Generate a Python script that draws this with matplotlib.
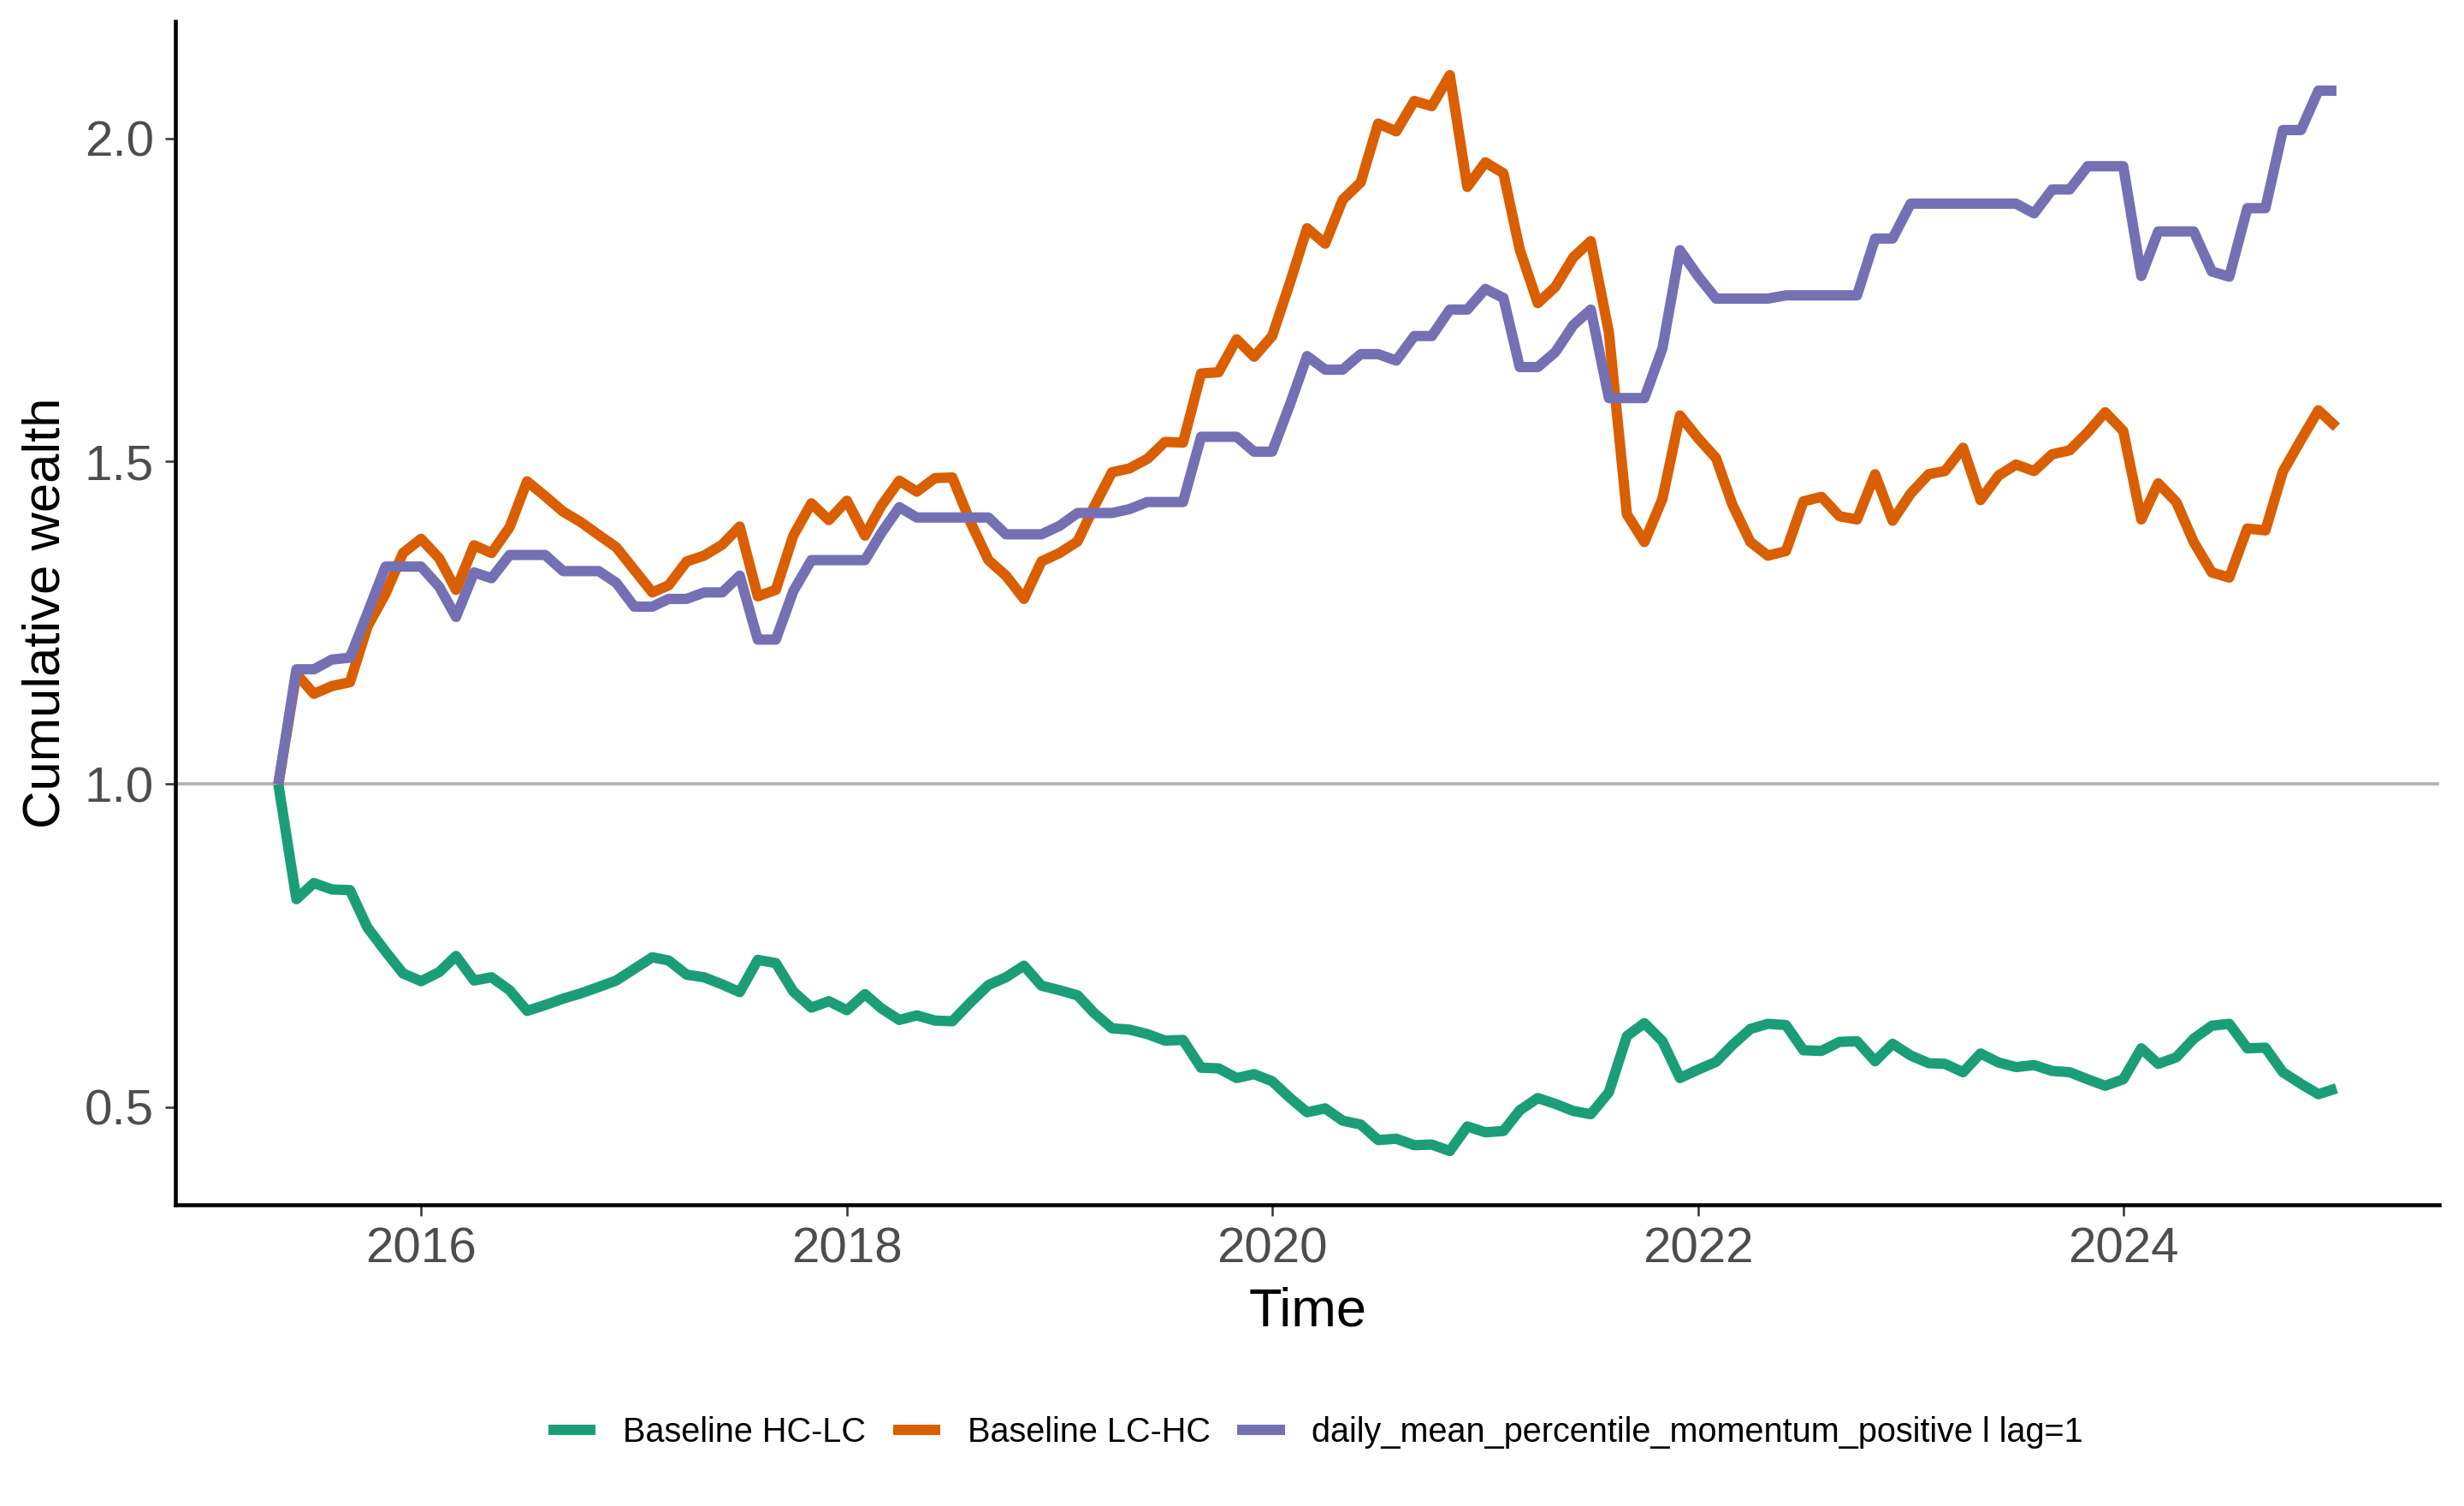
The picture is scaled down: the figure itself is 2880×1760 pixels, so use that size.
import matplotlib
matplotlib.use("Agg")
import matplotlib.pyplot as plt
import matplotlib.dates as mdates
import pandas as pd

plt.rcParams['font.family'] = ['Liberation Sans', 'DejaVu Sans']

start_month = "2015-05-01"
n_months = 117

hc_lc = [
    1.0, 0.822, 0.847, 0.837, 0.836, 0.778, 0.741, 0.707, 0.695, 0.709,
    0.734, 0.696, 0.701, 0.681, 0.649, 0.658, 0.668, 0.676, 0.686, 0.696,
    0.714, 0.732, 0.727, 0.705, 0.701, 0.690, 0.678, 0.728, 0.723, 0.679,
    0.654, 0.664, 0.650, 0.675, 0.653, 0.635, 0.642, 0.634, 0.633, 0.662,
    0.689, 0.701, 0.719, 0.688, 0.681, 0.673, 0.646, 0.622, 0.620, 0.613,
    0.603, 0.604, 0.561, 0.560, 0.545, 0.551, 0.540, 0.514, 0.492, 0.498,
    0.479, 0.473, 0.449, 0.451, 0.441, 0.442, 0.432, 0.470, 0.461, 0.463,
    0.495, 0.514, 0.505, 0.494, 0.489, 0.523, 0.610, 0.630, 0.602, 0.545,
    0.558, 0.570, 0.596, 0.621, 0.629, 0.627, 0.588, 0.587, 0.601, 0.602,
    0.571, 0.598, 0.580, 0.568, 0.567, 0.554, 0.583, 0.569, 0.562, 0.565,
    0.556, 0.554, 0.543, 0.533, 0.543, 0.591, 0.567, 0.577, 0.606, 0.626,
    0.629, 0.591, 0.592, 0.554, 0.536, 0.520, 0.529,
]

lc_hc = [
    1.0, 1.171, 1.140, 1.152, 1.158, 1.244, 1.295, 1.358, 1.380, 1.350,
    1.301, 1.370, 1.358, 1.398, 1.469, 1.446, 1.422, 1.406, 1.386, 1.367,
    1.332, 1.297, 1.308, 1.345, 1.354, 1.371, 1.399, 1.291, 1.301, 1.385,
    1.435, 1.409, 1.439, 1.385, 1.431, 1.470, 1.453, 1.474, 1.475, 1.406,
    1.347, 1.323, 1.287, 1.345, 1.358, 1.376, 1.429, 1.483, 1.489, 1.504,
    1.530, 1.529, 1.636, 1.638, 1.689, 1.662, 1.694, 1.778, 1.861, 1.837,
    1.905, 1.932, 2.023, 2.011, 2.058, 2.050, 2.098, 1.925, 1.963, 1.946,
    1.828, 1.745, 1.770, 1.816, 1.841, 1.700, 1.418, 1.375, 1.442, 1.571,
    1.536, 1.505, 1.433, 1.375, 1.354, 1.361, 1.438, 1.445, 1.415, 1.410,
    1.480, 1.408, 1.450, 1.480, 1.485, 1.521, 1.440, 1.478, 1.495, 1.485,
    1.511, 1.517, 1.545, 1.576, 1.547, 1.410, 1.466, 1.437, 1.375, 1.328,
    1.320, 1.396, 1.393, 1.484, 1.533, 1.579, 1.553,
]

momentum = [
    1.0, 1.178, 1.178, 1.193, 1.196, 1.265, 1.337, 1.337, 1.337, 1.306,
    1.259, 1.328, 1.319, 1.355, 1.355, 1.355, 1.330, 1.330, 1.330, 1.312,
    1.275, 1.275, 1.287, 1.287, 1.297, 1.297, 1.323, 1.224, 1.224, 1.299,
    1.347, 1.347, 1.347, 1.347, 1.389, 1.429, 1.413, 1.413, 1.413, 1.413,
    1.413, 1.387, 1.387, 1.387, 1.400, 1.420, 1.420, 1.420, 1.426, 1.437,
    1.437, 1.437, 1.538, 1.538, 1.538, 1.515, 1.515, 1.589, 1.663, 1.642,
    1.642, 1.666, 1.666, 1.656, 1.694, 1.694, 1.735, 1.735, 1.767, 1.753,
    1.646, 1.646, 1.669, 1.711, 1.735, 1.598, 1.598, 1.598, 1.675, 1.827,
    1.787, 1.752, 1.752, 1.752, 1.752, 1.757, 1.757, 1.757, 1.757, 1.757,
    1.845, 1.845, 1.899, 1.899, 1.899, 1.899, 1.899, 1.899, 1.899, 1.884,
    1.921, 1.921, 1.957, 1.957, 1.957, 1.787, 1.856, 1.856, 1.856, 1.794,
    1.786, 1.892, 1.892, 2.013, 2.013, 2.074, 2.074,
]

series_names = ["Baseline HC-LC", "Baseline LC-HC",
                "daily_mean_percentile_momentum_positive l lag=1"]
series_colors = ["#1B9E77", "#D95F02", "#7570B3"]
y_ticks = [0.5, 1.0, 1.5, 2.0]
y_tick_labels = ["0.5", "1.0", "1.5", "2.0"]

dates = pd.date_range(start_month, periods=n_months, freq="MS")

fig = plt.figure(figsize=(9.6, 5.8667), dpi=300)
ax = fig.add_axes([0.0712, 0.2, 0.9188, 0.7858])

ax.axhline(1.0, color="#B3B3B3", linewidth=0.9, zorder=1)
for vals, name, col in zip([hc_lc, lc_hc, momentum], series_names, series_colors):
    ax.plot(dates, vals, color=col, linewidth=2.9, label=name,
            solid_joinstyle="round", solid_capstyle="butt", zorder=2)

ax.margins(x=0.05, y=0.05)
ax.xaxis.set_major_locator(mdates.YearLocator(2))
ax.xaxis.set_major_formatter(mdates.DateFormatter("%Y"))
ax.set_yticks(y_ticks)
ax.set_yticklabels(y_tick_labels)

for side in ["top", "right"]:
    ax.spines[side].set_visible(False)
for side in ["left", "bottom"]:
    ax.spines[side].set_linewidth(1.1)
    ax.spines[side].set_color("black")

ax.tick_params(axis="both", which="major", length=3.0, width=0.6,
               color="#333333", labelcolor="#4D4D4D", labelsize=14, pad=3)

ax.set_xlabel("Time", fontsize=15.2, color="black", labelpad=4)
ax.set_ylabel("Cumulative wealth", fontsize=14.8, color="black", labelpad=4)

handles, labels = ax.get_legend_handles_labels()
leg = fig.legend(handles, labels, loc="center", bbox_to_anchor=(0.534, 0.049),
                 ncol=3, frameon=False, fontsize=9.5, handlelength=1.4,
                 handletextpad=0.8, columnspacing=0.8)

fig.savefig("out.png", dpi=300)
